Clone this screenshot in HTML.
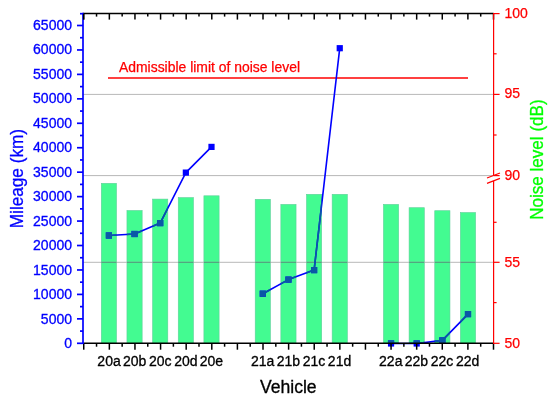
<!DOCTYPE html>
<html><head><meta charset="utf-8"><title>Chart</title>
<style>html,body{margin:0;padding:0;background:#fff;}svg{display:block;}</style></head>
<body>
<svg width="550" height="401" viewBox="0 0 550 401" font-family="'Liberation Sans', Arial, sans-serif">
<rect width="550" height="401" fill="#fff"/>
<defs><clipPath id="bc">
<rect x="101.30" y="183.30" width="15.2" height="160.00"/>
<rect x="126.95" y="210.50" width="15.2" height="132.80"/>
<rect x="152.60" y="199.10" width="15.2" height="144.20"/>
<rect x="178.25" y="197.60" width="15.2" height="145.70"/>
<rect x="203.90" y="195.80" width="15.2" height="147.50"/>
<rect x="255.20" y="199.30" width="15.2" height="144.00"/>
<rect x="280.85" y="204.40" width="15.2" height="138.90"/>
<rect x="306.50" y="194.30" width="15.2" height="149.00"/>
<rect x="332.15" y="194.30" width="15.2" height="149.00"/>
<rect x="383.45" y="204.40" width="15.2" height="138.90"/>
<rect x="409.10" y="207.70" width="15.2" height="135.60"/>
<rect x="434.75" y="210.70" width="15.2" height="132.60"/>
<rect x="460.40" y="212.50" width="15.2" height="130.80"/>
</clipPath></defs>
<rect x="101.30" y="183.30" width="15.2" height="160.00" fill="#43fb91" stroke="#5fcf9a" stroke-width="0.6"/>
<rect x="126.95" y="210.50" width="15.2" height="132.80" fill="#43fb91" stroke="#5fcf9a" stroke-width="0.6"/>
<rect x="152.60" y="199.10" width="15.2" height="144.20" fill="#43fb91" stroke="#5fcf9a" stroke-width="0.6"/>
<rect x="178.25" y="197.60" width="15.2" height="145.70" fill="#43fb91" stroke="#5fcf9a" stroke-width="0.6"/>
<rect x="203.90" y="195.80" width="15.2" height="147.50" fill="#43fb91" stroke="#5fcf9a" stroke-width="0.6"/>
<rect x="255.20" y="199.30" width="15.2" height="144.00" fill="#43fb91" stroke="#5fcf9a" stroke-width="0.6"/>
<rect x="280.85" y="204.40" width="15.2" height="138.90" fill="#43fb91" stroke="#5fcf9a" stroke-width="0.6"/>
<rect x="306.50" y="194.30" width="15.2" height="149.00" fill="#43fb91" stroke="#5fcf9a" stroke-width="0.6"/>
<rect x="332.15" y="194.30" width="15.2" height="149.00" fill="#43fb91" stroke="#5fcf9a" stroke-width="0.6"/>
<rect x="383.45" y="204.40" width="15.2" height="138.90" fill="#43fb91" stroke="#5fcf9a" stroke-width="0.6"/>
<rect x="409.10" y="207.70" width="15.2" height="135.60" fill="#43fb91" stroke="#5fcf9a" stroke-width="0.6"/>
<rect x="434.75" y="210.70" width="15.2" height="132.60" fill="#43fb91" stroke="#5fcf9a" stroke-width="0.6"/>
<rect x="460.40" y="212.50" width="15.2" height="130.80" fill="#43fb91" stroke="#5fcf9a" stroke-width="0.6"/>
<line x1="83.0" y1="94.4" x2="493.6" y2="94.4" stroke="#b8b8b8" stroke-width="1"/>
<line x1="83.0" y1="175.6" x2="493.6" y2="175.6" stroke="#b8b8b8" stroke-width="1"/>
<line x1="83.0" y1="262.3" x2="493.6" y2="262.3" stroke="#b8b8b8" stroke-width="1"/>
<g clip-path="url(#bc)"><line x1="83.0" y1="262.3" x2="493.6" y2="262.3" stroke="#3f9f74" stroke-width="1"/></g>
<line x1="108" y1="78" x2="468" y2="78" stroke="#ff0000" stroke-width="1.7"/>
<text x="119" y="71.6" font-size="14" fill="#ff0000" stroke="#ff0000" stroke-width="0.25" textLength="181" lengthAdjust="spacingAndGlyphs">Admissible limit of noise level</text>
<polyline points="108.90,235.50 134.55,234.00 160.20,223.10 185.85,172.60 211.50,146.90" fill="none" stroke="#0000ff" stroke-width="1.6" stroke-linejoin="round"/>
<rect x="105.80" y="232.40" width="6.2" height="6.2" fill="#0000ff"/>
<rect x="131.45" y="230.90" width="6.2" height="6.2" fill="#0000ff"/>
<rect x="157.10" y="220.00" width="6.2" height="6.2" fill="#0000ff"/>
<rect x="182.75" y="169.50" width="6.2" height="6.2" fill="#0000ff"/>
<rect x="208.40" y="143.80" width="6.2" height="6.2" fill="#0000ff"/>
<polyline points="262.80,293.70 288.45,279.60 314.10,270.10 339.75,48.20" fill="none" stroke="#0000ff" stroke-width="1.6" stroke-linejoin="round"/>
<rect x="259.70" y="290.60" width="6.2" height="6.2" fill="#0000ff"/>
<rect x="285.35" y="276.50" width="6.2" height="6.2" fill="#0000ff"/>
<rect x="311.00" y="267.00" width="6.2" height="6.2" fill="#0000ff"/>
<rect x="336.65" y="45.10" width="6.2" height="6.2" fill="#0000ff"/>
<polyline points="391.05,343.50 416.70,343.50 442.35,340.40 468.00,314.10" fill="none" stroke="#0000ff" stroke-width="1.6" stroke-linejoin="round"/>
<rect x="387.95" y="340.40" width="6.2" height="6.2" fill="#0000ff"/>
<rect x="413.60" y="340.40" width="6.2" height="6.2" fill="#0000ff"/>
<rect x="439.25" y="337.30" width="6.2" height="6.2" fill="#0000ff"/>
<rect x="464.90" y="311.00" width="6.2" height="6.2" fill="#0000ff"/>
<g clip-path="url(#bc)">
<polyline points="108.90,235.50 134.55,234.00 160.20,223.10 185.85,172.60 211.50,146.90" fill="none" stroke="#0a58a6" stroke-width="1.6" stroke-linejoin="round"/>
<rect x="105.80" y="232.40" width="6.2" height="6.2" fill="#0a58a6"/>
<rect x="131.45" y="230.90" width="6.2" height="6.2" fill="#0a58a6"/>
<rect x="157.10" y="220.00" width="6.2" height="6.2" fill="#0a58a6"/>
<rect x="182.75" y="169.50" width="6.2" height="6.2" fill="#0a58a6"/>
<rect x="208.40" y="143.80" width="6.2" height="6.2" fill="#0a58a6"/>
<polyline points="262.80,293.70 288.45,279.60 314.10,270.10 339.75,48.20" fill="none" stroke="#0a58a6" stroke-width="1.6" stroke-linejoin="round"/>
<rect x="259.70" y="290.60" width="6.2" height="6.2" fill="#0a58a6"/>
<rect x="285.35" y="276.50" width="6.2" height="6.2" fill="#0a58a6"/>
<rect x="311.00" y="267.00" width="6.2" height="6.2" fill="#0a58a6"/>
<rect x="336.65" y="45.10" width="6.2" height="6.2" fill="#0a58a6"/>
<polyline points="391.05,343.50 416.70,343.50 442.35,340.40 468.00,314.10" fill="none" stroke="#0a58a6" stroke-width="1.6" stroke-linejoin="round"/>
<rect x="387.95" y="340.40" width="6.2" height="6.2" fill="#0a58a6"/>
<rect x="413.60" y="340.40" width="6.2" height="6.2" fill="#0a58a6"/>
<rect x="439.25" y="337.30" width="6.2" height="6.2" fill="#0a58a6"/>
<rect x="464.90" y="311.00" width="6.2" height="6.2" fill="#0a58a6"/>
</g>
<g stroke="#000" stroke-width="1.5" fill="none">
<line x1="83.0" y1="343.3" x2="493.6" y2="343.3"/>
<line x1="83.0" y1="13.6" x2="493.6" y2="13.6"/>
<line x1="83.74" y1="343.3" x2="83.74" y2="349.7"/>
<line x1="83.74" y1="13.6" x2="83.74" y2="19.6"/>
<line x1="96.54" y1="343.3" x2="96.54" y2="346.7"/>
<line x1="96.54" y1="13.6" x2="96.54" y2="16.6"/>
<line x1="109.35" y1="343.3" x2="109.35" y2="349.7"/>
<line x1="109.35" y1="13.6" x2="109.35" y2="19.6"/>
<line x1="122.16" y1="343.3" x2="122.16" y2="346.7"/>
<line x1="122.16" y1="13.6" x2="122.16" y2="16.6"/>
<line x1="134.96" y1="343.3" x2="134.96" y2="349.7"/>
<line x1="134.96" y1="13.6" x2="134.96" y2="19.6"/>
<line x1="147.76" y1="343.3" x2="147.76" y2="346.7"/>
<line x1="147.76" y1="13.6" x2="147.76" y2="16.6"/>
<line x1="160.57" y1="343.3" x2="160.57" y2="349.7"/>
<line x1="160.57" y1="13.6" x2="160.57" y2="19.6"/>
<line x1="173.38" y1="343.3" x2="173.38" y2="346.7"/>
<line x1="173.38" y1="13.6" x2="173.38" y2="16.6"/>
<line x1="186.18" y1="343.3" x2="186.18" y2="349.7"/>
<line x1="186.18" y1="13.6" x2="186.18" y2="19.6"/>
<line x1="198.99" y1="343.3" x2="198.99" y2="346.7"/>
<line x1="198.99" y1="13.6" x2="198.99" y2="16.6"/>
<line x1="211.79" y1="343.3" x2="211.79" y2="349.7"/>
<line x1="211.79" y1="13.6" x2="211.79" y2="19.6"/>
<line x1="224.60" y1="343.3" x2="224.60" y2="346.7"/>
<line x1="224.60" y1="13.6" x2="224.60" y2="16.6"/>
<line x1="237.40" y1="343.3" x2="237.40" y2="349.7"/>
<line x1="237.40" y1="13.6" x2="237.40" y2="19.6"/>
<line x1="250.21" y1="343.3" x2="250.21" y2="346.7"/>
<line x1="250.21" y1="13.6" x2="250.21" y2="16.6"/>
<line x1="263.01" y1="343.3" x2="263.01" y2="349.7"/>
<line x1="263.01" y1="13.6" x2="263.01" y2="19.6"/>
<line x1="275.82" y1="343.3" x2="275.82" y2="346.7"/>
<line x1="275.82" y1="13.6" x2="275.82" y2="16.6"/>
<line x1="288.62" y1="343.3" x2="288.62" y2="349.7"/>
<line x1="288.62" y1="13.6" x2="288.62" y2="19.6"/>
<line x1="301.43" y1="343.3" x2="301.43" y2="346.7"/>
<line x1="301.43" y1="13.6" x2="301.43" y2="16.6"/>
<line x1="314.23" y1="343.3" x2="314.23" y2="349.7"/>
<line x1="314.23" y1="13.6" x2="314.23" y2="19.6"/>
<line x1="327.04" y1="343.3" x2="327.04" y2="346.7"/>
<line x1="327.04" y1="13.6" x2="327.04" y2="16.6"/>
<line x1="339.84" y1="343.3" x2="339.84" y2="349.7"/>
<line x1="339.84" y1="13.6" x2="339.84" y2="19.6"/>
<line x1="352.65" y1="343.3" x2="352.65" y2="346.7"/>
<line x1="352.65" y1="13.6" x2="352.65" y2="16.6"/>
<line x1="365.45" y1="343.3" x2="365.45" y2="349.7"/>
<line x1="365.45" y1="13.6" x2="365.45" y2="19.6"/>
<line x1="378.26" y1="343.3" x2="378.26" y2="346.7"/>
<line x1="378.26" y1="13.6" x2="378.26" y2="16.6"/>
<line x1="391.06" y1="343.3" x2="391.06" y2="349.7"/>
<line x1="391.06" y1="13.6" x2="391.06" y2="19.6"/>
<line x1="403.87" y1="343.3" x2="403.87" y2="346.7"/>
<line x1="403.87" y1="13.6" x2="403.87" y2="16.6"/>
<line x1="416.67" y1="343.3" x2="416.67" y2="349.7"/>
<line x1="416.67" y1="13.6" x2="416.67" y2="19.6"/>
<line x1="429.48" y1="343.3" x2="429.48" y2="346.7"/>
<line x1="429.48" y1="13.6" x2="429.48" y2="16.6"/>
<line x1="442.28" y1="343.3" x2="442.28" y2="349.7"/>
<line x1="442.28" y1="13.6" x2="442.28" y2="19.6"/>
<line x1="455.09" y1="343.3" x2="455.09" y2="346.7"/>
<line x1="455.09" y1="13.6" x2="455.09" y2="16.6"/>
<line x1="467.89" y1="343.3" x2="467.89" y2="349.7"/>
<line x1="467.89" y1="13.6" x2="467.89" y2="19.6"/>
<line x1="480.70" y1="343.3" x2="480.70" y2="346.7"/>
<line x1="480.70" y1="13.6" x2="480.70" y2="16.6"/>
<line x1="493.50" y1="343.3" x2="493.50" y2="349.7"/>
<line x1="493.50" y1="13.6" x2="493.50" y2="19.6"/>
</g>
<g stroke="#0000ff" stroke-width="1.7" fill="none">
<line x1="83.0" y1="12.85" x2="83.0" y2="344.05"/>
<line x1="77.0" y1="343.30" x2="83.0" y2="343.30"/>
<line x1="80.0" y1="331.08" x2="83.0" y2="331.08"/>
<line x1="77.0" y1="318.85" x2="83.0" y2="318.85"/>
<line x1="80.0" y1="306.63" x2="83.0" y2="306.63"/>
<line x1="77.0" y1="294.41" x2="83.0" y2="294.41"/>
<line x1="80.0" y1="282.18" x2="83.0" y2="282.18"/>
<line x1="77.0" y1="269.96" x2="83.0" y2="269.96"/>
<line x1="80.0" y1="257.74" x2="83.0" y2="257.74"/>
<line x1="77.0" y1="245.52" x2="83.0" y2="245.52"/>
<line x1="80.0" y1="233.29" x2="83.0" y2="233.29"/>
<line x1="77.0" y1="221.07" x2="83.0" y2="221.07"/>
<line x1="80.0" y1="208.85" x2="83.0" y2="208.85"/>
<line x1="77.0" y1="196.62" x2="83.0" y2="196.62"/>
<line x1="80.0" y1="184.40" x2="83.0" y2="184.40"/>
<line x1="77.0" y1="172.18" x2="83.0" y2="172.18"/>
<line x1="80.0" y1="159.95" x2="83.0" y2="159.95"/>
<line x1="77.0" y1="147.73" x2="83.0" y2="147.73"/>
<line x1="80.0" y1="135.51" x2="83.0" y2="135.51"/>
<line x1="77.0" y1="123.28" x2="83.0" y2="123.28"/>
<line x1="80.0" y1="111.06" x2="83.0" y2="111.06"/>
<line x1="77.0" y1="98.84" x2="83.0" y2="98.84"/>
<line x1="80.0" y1="86.62" x2="83.0" y2="86.62"/>
<line x1="77.0" y1="74.39" x2="83.0" y2="74.39"/>
<line x1="80.0" y1="62.17" x2="83.0" y2="62.17"/>
<line x1="77.0" y1="49.95" x2="83.0" y2="49.95"/>
<line x1="80.0" y1="37.72" x2="83.0" y2="37.72"/>
<line x1="77.0" y1="25.50" x2="83.0" y2="25.50"/>
<line x1="80.0" y1="13.70" x2="83.0" y2="13.70"/>
</g>
<line x1="83.6" y1="13.6" x2="83.6" y2="19.6" stroke="#000" stroke-width="1.3"/>
<g font-size="14" fill="#0000ff" stroke="#0000ff" stroke-width="0.3" text-anchor="end">
<text x="72" y="348.20">0</text>
<text x="72" y="323.71">5000</text>
<text x="72" y="299.22">10000</text>
<text x="72" y="274.72">15000</text>
<text x="72" y="250.23">20000</text>
<text x="72" y="225.74">25000</text>
<text x="72" y="201.25">30000</text>
<text x="72" y="176.75">35000</text>
<text x="72" y="152.26">40000</text>
<text x="72" y="127.77">45000</text>
<text x="72" y="103.28">50000</text>
<text x="72" y="78.78">55000</text>
<text x="72" y="54.29">60000</text>
<text x="72" y="29.80">65000</text>
</g>
<g stroke="#ff0000" stroke-width="1.2" fill="none">
<line x1="493.6" y1="13.0" x2="493.6" y2="176"/>
<line x1="493.6" y1="181" x2="493.6" y2="343.90000000000003"/>
<line x1="487" y1="178" x2="500" y2="173"/>
<line x1="487" y1="183.4" x2="500" y2="178.4"/>
<line x1="493.6" y1="13.6" x2="499.6" y2="13.6"/>
<line x1="493.6" y1="94.4" x2="499.6" y2="94.4"/>
<line x1="493.6" y1="175.6" x2="499.6" y2="175.6"/>
<line x1="493.6" y1="262.3" x2="499.6" y2="262.3"/>
<line x1="493.6" y1="343.3" x2="499.6" y2="343.3"/>
<line x1="493.6" y1="53.8" x2="496.6" y2="53.8"/>
<line x1="493.6" y1="135" x2="496.6" y2="135"/>
<line x1="493.6" y1="222.3" x2="496.6" y2="222.3"/>
<line x1="493.6" y1="302.6" x2="496.6" y2="302.6"/>
</g>
<g font-size="14" fill="#ff0000" stroke="#ff0000" stroke-width="0.25">
<text x="504.5" y="17.60">100</text>
<text x="504.5" y="98.40">95</text>
<text x="504.5" y="179.60">90</text>
<text x="504.5" y="267.00">55</text>
<text x="504.5" y="348.00">50</text>
</g>
<g font-size="14" fill="#000" stroke="#000" stroke-width="0.3" text-anchor="middle">
<text x="109.05" y="365.7">20a</text>
<text x="134.66" y="365.7">20b</text>
<text x="160.27" y="365.7">20c</text>
<text x="185.88" y="365.7">20d</text>
<text x="211.49" y="365.7">20e</text>
<text x="262.71" y="365.7">21a</text>
<text x="288.32" y="365.7">21b</text>
<text x="313.93" y="365.7">21c</text>
<text x="339.54" y="365.7">21d</text>
<text x="390.76" y="365.7">22a</text>
<text x="416.37" y="365.7">22b</text>
<text x="441.98" y="365.7">22c</text>
<text x="467.59" y="365.7">22d</text>
</g>
<text x="288.3" y="392.6" font-size="17.6" fill="#000" stroke="#000" stroke-width="0.3" text-anchor="middle">Vehicle</text>
<text transform="translate(23,178.6) rotate(-90)" font-size="18.2" textLength="99.2" lengthAdjust="spacingAndGlyphs" fill="#0000ff" stroke="#0000ff" stroke-width="0.3" text-anchor="middle">Mileage (km)</text>
<text transform="translate(542.6,159.6) rotate(-90)" font-size="18.2" textLength="120.4" lengthAdjust="spacingAndGlyphs" fill="#00ff00" stroke="#00ff00" stroke-width="0.3" text-anchor="middle">Noise level (dB)</text>
</svg>
</body></html>
